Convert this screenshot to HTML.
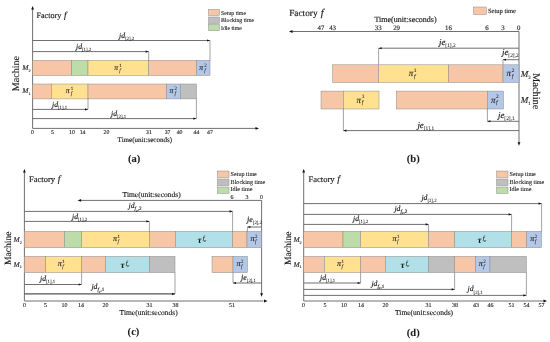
<!DOCTYPE html>
<html><head><meta charset="utf-8"><title>Figure</title>
<style>
html,body{margin:0;padding:0;background:#fff;}
svg{display:block;}
svg text{text-rendering:geometricPrecision;font-family:"Liberation Serif","DejaVu Serif",serif;fill:#1a1a1a;stroke:#1a1a1a;stroke-width:0.2px;}
</style></head>
<body>
<svg width="550" height="342" viewBox="0 0 550 342">
<rect width="550" height="342" fill="#ffffff"/>
<line x1="32.60" y1="128.40" x2="32.60" y2="8.00" stroke="#686868" stroke-width="0.95"/>
<polygon points="32.60,6.00 31.20,9.50 34.00,9.50" fill="#111"/>
<line x1="32.60" y1="128.40" x2="256.00" y2="128.40" stroke="#686868" stroke-width="0.95"/>
<polygon points="259.00,128.40 255.50,127.00 255.50,129.80" fill="#111"/>
<text x="36.50" y="17.50" text-anchor="start" style="font-size:8.1px;stroke-width:0.162px;" >Factory <tspan dx="0.65" style="font-style:italic;font-size:9.07px">f</tspan></text>
<text x="0" y="0" text-anchor="middle" transform="translate(18.60,73.60) rotate(-90)" style="font-size:10.1px;stroke-width:0.12px">Machine</text>
<text x="22.30" y="70.20" style="font-size:7.4px;font-style:italic;stroke-width:0.1px">M<tspan dy="1.85" style="font-size:4.2px;font-style:normal">2</tspan></text>
<text x="22.30" y="93.40" style="font-size:7.4px;font-style:italic;stroke-width:0.1px">M<tspan dy="1.85" style="font-size:4.2px;font-style:normal">1</tspan></text>
<rect x="208.60" y="9.40" width="10.80" height="6.00" fill="#F7C6A7" stroke="#8a8a8a" stroke-width="0.5"/>
<text x="221.00" y="14.60" text-anchor="start" style="font-size:5.8px;stroke-width:0.116px;" >Setup time</text>
<rect x="208.60" y="17.00" width="10.80" height="6.40" fill="#BFBFBF" stroke="#8a8a8a" stroke-width="0.5"/>
<text x="221.00" y="22.20" text-anchor="start" style="font-size:5.8px;stroke-width:0.116px;" >Blocking time</text>
<rect x="208.60" y="24.60" width="10.80" height="6.00" fill="#BCDDAA" stroke="#8a8a8a" stroke-width="0.5"/>
<text x="221.00" y="29.60" text-anchor="start" style="font-size:5.8px;stroke-width:0.116px;" >Idle time</text>
<rect x="32.60" y="60.40" width="39.00" height="15.10" fill="#F7C6A7" stroke="#8a8a8a" stroke-width="0.5"/>
<rect x="71.60" y="60.40" width="16.40" height="15.10" fill="#BCDDAA" stroke="#8a8a8a" stroke-width="0.5"/>
<rect x="88.00" y="60.40" width="60.60" height="15.10" fill="#FFE18F" stroke="#8a8a8a" stroke-width="0.5"/>
<rect x="148.60" y="60.40" width="47.90" height="15.10" fill="#F7C6A7" stroke="#8a8a8a" stroke-width="0.5"/>
<rect x="196.50" y="60.40" width="13.50" height="15.10" fill="#B4C7E7" stroke="#8a8a8a" stroke-width="0.5"/>
<rect x="32.60" y="84.00" width="18.80" height="14.90" fill="#F7C6A7" stroke="#8a8a8a" stroke-width="0.5"/>
<rect x="51.40" y="84.00" width="36.60" height="14.90" fill="#FFE18F" stroke="#8a8a8a" stroke-width="0.5"/>
<rect x="88.00" y="84.00" width="78.40" height="14.90" fill="#F7C6A7" stroke="#8a8a8a" stroke-width="0.5"/>
<rect x="166.40" y="84.00" width="14.00" height="14.90" fill="#B4C7E7" stroke="#8a8a8a" stroke-width="0.5"/>
<rect x="180.40" y="84.00" width="16.00" height="14.90" fill="#BFBFBF" stroke="#8a8a8a" stroke-width="0.5"/>
<text x="114.18" y="70.32" style="font-size:7.8px;font-style:italic;stroke-width:0.1px">π</text>
<text x="119.33" y="67.35" style="font-size:5.0px;stroke-width:0.04px">1</text>
<text x="119.33" y="72.42" style="font-size:5.25px;font-style:italic;stroke-width:0.04px">f</text>
<text x="199.18" y="70.32" style="font-size:7.8px;font-style:italic;stroke-width:0.1px">π</text>
<text x="204.33" y="67.35" style="font-size:5.0px;stroke-width:0.04px">2</text>
<text x="204.33" y="72.42" style="font-size:5.25px;font-style:italic;stroke-width:0.04px">f</text>
<text x="65.68" y="93.32" style="font-size:7.8px;font-style:italic;stroke-width:0.1px">π</text>
<text x="70.83" y="90.35" style="font-size:5.0px;stroke-width:0.04px">1</text>
<text x="70.83" y="95.42" style="font-size:5.25px;font-style:italic;stroke-width:0.04px">f</text>
<text x="169.38" y="92.92" style="font-size:7.8px;font-style:italic;stroke-width:0.1px">π</text>
<text x="174.53" y="89.95" style="font-size:5.0px;stroke-width:0.04px">2</text>
<text x="174.53" y="95.02" style="font-size:5.25px;font-style:italic;stroke-width:0.04px">f</text>
<line x1="32.60" y1="40.50" x2="210.00" y2="40.50" stroke="#686868" stroke-width="0.95"/>
<polygon points="210.00,40.50 207.00,39.45 207.00,41.55" fill="#111"/>
<line x1="210.00" y1="40.50" x2="210.00" y2="60.60" stroke="#7c7c7c" stroke-width="0.7"/>
<text x="119.00" y="38.30" text-anchor="start" style="font-size:7.7px;stroke-width:0.154px;" ><tspan style="font-style:italic">jd</tspan><tspan dy="2.16" style="font-size:4.8px;stroke-width:0.05px;">[2],2</tspan></text>
<line x1="32.60" y1="51.60" x2="148.70" y2="51.60" stroke="#686868" stroke-width="0.95"/>
<polygon points="148.70,51.60 145.70,50.55 145.70,52.65" fill="#111"/>
<line x1="148.70" y1="51.60" x2="148.70" y2="60.60" stroke="#7c7c7c" stroke-width="0.7"/>
<text x="76.00" y="49.30" text-anchor="start" style="font-size:7.7px;stroke-width:0.154px;" ><tspan style="font-style:italic">jd</tspan><tspan dy="2.16" style="font-size:4.8px;stroke-width:0.05px;">[1],2</tspan></text>
<line x1="32.60" y1="109.40" x2="88.00" y2="109.40" stroke="#686868" stroke-width="0.95"/>
<polygon points="88.00,109.40 85.00,108.35 85.00,110.45" fill="#111"/>
<line x1="88.00" y1="98.40" x2="88.00" y2="109.40" stroke="#7c7c7c" stroke-width="0.7"/>
<text x="52.00" y="106.60" text-anchor="start" style="font-size:7.7px;stroke-width:0.154px;" ><tspan style="font-style:italic">jd</tspan><tspan dy="2.16" style="font-size:4.8px;stroke-width:0.05px;">[1],1</tspan></text>
<line x1="32.60" y1="118.60" x2="196.40" y2="118.60" stroke="#686868" stroke-width="0.95"/>
<polygon points="196.40,118.60 193.40,117.55 193.40,119.65" fill="#111"/>
<line x1="196.40" y1="98.40" x2="196.40" y2="118.60" stroke="#7c7c7c" stroke-width="0.7"/>
<text x="111.00" y="116.20" text-anchor="start" style="font-size:7.7px;stroke-width:0.154px;" ><tspan style="font-style:italic">jd</tspan><tspan dy="2.16" style="font-size:4.8px;stroke-width:0.05px;">[2],1</tspan></text>
<text x="32.40" y="134.20" text-anchor="middle" style="font-size:5.8px;stroke-width:0.116px;" >0</text>
<text x="52.40" y="134.20" text-anchor="middle" style="font-size:5.8px;stroke-width:0.116px;" >5</text>
<text x="72.00" y="134.20" text-anchor="middle" style="font-size:5.8px;stroke-width:0.116px;" >10</text>
<text x="82.60" y="134.20" text-anchor="middle" style="font-size:5.8px;stroke-width:0.116px;" >14</text>
<text x="106.40" y="134.20" text-anchor="middle" style="font-size:5.8px;stroke-width:0.116px;" >20</text>
<text x="149.00" y="134.20" text-anchor="middle" style="font-size:5.8px;stroke-width:0.116px;" >31</text>
<text x="167.60" y="134.20" text-anchor="middle" style="font-size:5.8px;stroke-width:0.116px;" >37</text>
<text x="179.60" y="134.20" text-anchor="middle" style="font-size:5.8px;stroke-width:0.116px;" >40</text>
<text x="196.40" y="134.20" text-anchor="middle" style="font-size:5.8px;stroke-width:0.116px;" >44</text>
<text x="210.00" y="134.20" text-anchor="middle" style="font-size:5.8px;stroke-width:0.116px;" >47</text>
<text x="117.60" y="142.00" text-anchor="start" style="font-size:7.05px;stroke-width:0.141px;" >Time(unit:seconds)</text>
<text x="134.20" y="162.40" text-anchor="middle" style="font-size:10.6px;font-weight:bold;stroke-width:0.05px">(a)</text>
<line x1="519.00" y1="31.50" x2="292.00" y2="31.50" stroke="#686868" stroke-width="0.95"/>
<polygon points="289.00,31.50 292.50,30.10 292.50,32.90" fill="#111"/>
<line x1="519.00" y1="31.50" x2="519.00" y2="143.00" stroke="#686868" stroke-width="0.95"/>
<polygon points="519.00,145.80 517.60,142.30 520.40,142.30" fill="#111"/>
<text x="289.20" y="15.90" text-anchor="start" style="font-size:9.3px;stroke-width:0.186px;" >Factory <tspan dx="0.74" style="font-style:italic;font-size:10.42px">f</tspan></text>
<text x="374.40" y="21.60" text-anchor="start" style="font-size:8.05px;stroke-width:0.161px;" >Time(unit:seconds)</text>
<rect x="473.50" y="7.00" width="12.80" height="7.40" fill="#F7C6A7" stroke="#8a8a8a" stroke-width="0.5"/>
<text x="488.00" y="12.80" text-anchor="start" style="font-size:6.5px;stroke-width:0.130px;" >Setup time</text>
<text x="321.00" y="29.70" text-anchor="middle" style="font-size:6.8px;stroke-width:0.136px;" >47</text>
<text x="332.60" y="29.70" text-anchor="middle" style="font-size:6.8px;stroke-width:0.136px;" >43</text>
<text x="378.20" y="29.70" text-anchor="middle" style="font-size:6.8px;stroke-width:0.136px;" >33</text>
<text x="396.60" y="29.70" text-anchor="middle" style="font-size:6.8px;stroke-width:0.136px;" >29</text>
<text x="448.50" y="29.70" text-anchor="middle" style="font-size:6.8px;stroke-width:0.136px;" >16</text>
<text x="487.00" y="29.70" text-anchor="middle" style="font-size:6.8px;stroke-width:0.136px;" >6</text>
<text x="503.00" y="29.70" text-anchor="middle" style="font-size:6.8px;stroke-width:0.136px;" >3</text>
<text x="518.60" y="29.70" text-anchor="middle" style="font-size:6.8px;stroke-width:0.136px;" >0</text>
<rect x="332.60" y="64.80" width="46.00" height="17.70" fill="#F7C6A7" stroke="#8a8a8a" stroke-width="0.5"/>
<rect x="378.60" y="64.80" width="70.00" height="17.70" fill="#FFE18F" stroke="#8a8a8a" stroke-width="0.5"/>
<rect x="448.60" y="64.80" width="54.40" height="17.70" fill="#F7C6A7" stroke="#8a8a8a" stroke-width="0.5"/>
<rect x="503.00" y="64.80" width="16.00" height="17.70" fill="#B4C7E7" stroke="#8a8a8a" stroke-width="0.5"/>
<rect x="321.00" y="91.10" width="22.40" height="17.90" fill="#F7C6A7" stroke="#8a8a8a" stroke-width="0.5"/>
<rect x="343.40" y="91.10" width="35.60" height="17.90" fill="#FFE18F" stroke="#8a8a8a" stroke-width="0.5"/>
<rect x="396.40" y="91.10" width="91.00" height="17.90" fill="#F7C6A7" stroke="#8a8a8a" stroke-width="0.5"/>
<rect x="487.40" y="91.10" width="16.00" height="17.90" fill="#B4C7E7" stroke="#8a8a8a" stroke-width="0.5"/>
<text x="408.79" y="76.39" style="font-size:9.0px;font-style:italic;stroke-width:0.1px">π</text>
<text x="413.83" y="71.71" style="font-size:5.4px;stroke-width:0.04px">1</text>
<text x="414.01" y="77.65" style="font-size:5.67px;font-style:italic;stroke-width:0.04px">f</text>
<text x="506.59" y="76.39" style="font-size:9.0px;font-style:italic;stroke-width:0.1px">π</text>
<text x="511.63" y="71.71" style="font-size:5.4px;stroke-width:0.04px">2</text>
<text x="511.81" y="77.65" style="font-size:5.67px;font-style:italic;stroke-width:0.04px">f</text>
<text x="356.59" y="102.79" style="font-size:9.0px;font-style:italic;stroke-width:0.1px">π</text>
<text x="361.63" y="98.11" style="font-size:5.4px;stroke-width:0.04px">1</text>
<text x="361.81" y="104.05" style="font-size:5.67px;font-style:italic;stroke-width:0.04px">f</text>
<text x="490.89" y="102.79" style="font-size:9.0px;font-style:italic;stroke-width:0.1px">π</text>
<text x="495.93" y="98.11" style="font-size:5.4px;stroke-width:0.04px">2</text>
<text x="496.11" y="104.05" style="font-size:5.67px;font-style:italic;stroke-width:0.04px">f</text>
<text x="520.80" y="76.80" style="font-size:9.0px;font-style:italic;stroke-width:0.1px">M<tspan dy="2.25" style="font-size:4.8px;font-style:normal">2</tspan></text>
<text x="520.80" y="102.80" style="font-size:9.0px;font-style:italic;stroke-width:0.1px">M<tspan dy="2.25" style="font-size:4.8px;font-style:normal">1</tspan></text>
<text x="0" y="0" text-anchor="middle" transform="translate(532.50,91.20) rotate(90)" style="font-size:10.4px;stroke-width:0.12px">Machine</text>
<line x1="519.00" y1="48.20" x2="378.60" y2="48.20" stroke="#686868" stroke-width="0.95"/>
<polygon points="378.60,48.20 381.60,47.15 381.60,49.25" fill="#111"/>
<line x1="378.60" y1="48.20" x2="378.60" y2="64.40" stroke="#7c7c7c" stroke-width="0.7"/>
<text x="439.00" y="44.60" text-anchor="start" style="font-size:8.8px;stroke-width:0.176px;" ><tspan style="font-style:italic">je</tspan><tspan dy="2.46" style="font-size:5.4px;stroke-width:0.05px;">[1],2</tspan></text>
<line x1="519.00" y1="59.70" x2="503.00" y2="59.70" stroke="#686868" stroke-width="0.95"/>
<polygon points="503.00,59.70 506.00,58.65 506.00,60.75" fill="#111"/>
<line x1="503.00" y1="59.70" x2="503.00" y2="64.40" stroke="#7c7c7c" stroke-width="0.7"/>
<text x="502.00" y="55.00" text-anchor="start" style="font-size:8.8px;stroke-width:0.176px;" ><tspan style="font-style:italic">je</tspan><tspan dy="2.46" style="font-size:5.4px;stroke-width:0.05px;">[2],2</tspan></text>
<line x1="519.00" y1="121.30" x2="487.40" y2="121.30" stroke="#686868" stroke-width="0.95"/>
<polygon points="487.40,121.30 490.40,120.25 490.40,122.35" fill="#111"/>
<line x1="487.40" y1="108.60" x2="487.40" y2="121.30" stroke="#7c7c7c" stroke-width="0.7"/>
<text x="498.00" y="118.00" text-anchor="start" style="font-size:8.8px;stroke-width:0.176px;" ><tspan style="font-style:italic">je</tspan><tspan dy="2.46" style="font-size:5.4px;stroke-width:0.05px;">[2],1</tspan></text>
<line x1="519.00" y1="130.60" x2="343.40" y2="130.60" stroke="#686868" stroke-width="0.95"/>
<polygon points="343.40,130.60 346.40,129.55 346.40,131.65" fill="#111"/>
<line x1="343.40" y1="108.60" x2="343.40" y2="130.60" stroke="#7c7c7c" stroke-width="0.7"/>
<text x="417.40" y="127.60" text-anchor="start" style="font-size:8.8px;stroke-width:0.176px;" ><tspan style="font-style:italic">je</tspan><tspan dy="2.46" style="font-size:5.4px;stroke-width:0.05px;">[1],1</tspan></text>
<text x="413.30" y="162.20" text-anchor="middle" style="font-size:10.6px;font-weight:bold;stroke-width:0.05px">(b)</text>
<line x1="24.40" y1="301.00" x2="24.40" y2="171.00" stroke="#686868" stroke-width="0.95"/>
<polygon points="24.40,169.00 23.00,172.50 25.80,172.50" fill="#111"/>
<line x1="24.40" y1="301.00" x2="263.50" y2="301.00" stroke="#686868" stroke-width="0.95"/>
<polygon points="267.50,301.00 264.00,299.60 264.00,302.40" fill="#111"/>
<text x="29.00" y="181.80" text-anchor="start" style="font-size:8.5px;stroke-width:0.170px;" >Factory <tspan dx="0.68" style="font-style:italic;font-size:9.52px">f</tspan></text>
<text x="0" y="0" text-anchor="middle" transform="translate(11.20,248.20) rotate(-90)" style="font-size:9.6px;stroke-width:0.12px">Machine</text>
<text x="13.60" y="241.80" style="font-size:7.4px;font-style:italic;stroke-width:0.1px">M<tspan dy="1.85" style="font-size:4.2px;font-style:normal">2</tspan></text>
<text x="13.60" y="266.60" style="font-size:7.4px;font-style:italic;stroke-width:0.1px">M<tspan dy="1.85" style="font-size:4.2px;font-style:normal">1</tspan></text>
<rect x="217.40" y="171.00" width="11.60" height="6.40" fill="#F7C6A7" stroke="#8a8a8a" stroke-width="0.5"/>
<text x="230.60" y="176.40" text-anchor="start" style="font-size:6.1px;stroke-width:0.122px;" >Setup time</text>
<rect x="217.40" y="179.00" width="11.60" height="6.60" fill="#BFBFBF" stroke="#8a8a8a" stroke-width="0.5"/>
<text x="230.60" y="184.00" text-anchor="start" style="font-size:6.1px;stroke-width:0.122px;" >Blocking time</text>
<rect x="217.40" y="187.00" width="11.60" height="6.40" fill="#BCDDAA" stroke="#8a8a8a" stroke-width="0.5"/>
<text x="230.60" y="191.20" text-anchor="start" style="font-size:6.1px;stroke-width:0.122px;" >Idle time</text>
<text x="122.60" y="196.50" text-anchor="start" style="font-size:7.5px;stroke-width:0.150px;" >Time(unit:seconds)</text>
<line x1="261.60" y1="200.40" x2="80.50" y2="200.40" stroke="#686868" stroke-width="0.95"/>
<polygon points="77.60,200.40 81.10,199.00 81.10,201.80" fill="#111"/>
<line x1="261.60" y1="200.40" x2="261.60" y2="294.00" stroke="#686868" stroke-width="0.95"/>
<polygon points="261.60,296.80 260.20,293.30 263.00,293.30" fill="#111"/>
<text x="232.00" y="199.00" text-anchor="middle" style="font-size:6px;stroke-width:0.120px;" >6</text>
<text x="247.00" y="199.00" text-anchor="middle" style="font-size:6px;stroke-width:0.120px;" >3</text>
<text x="261.40" y="199.00" text-anchor="middle" style="font-size:6px;stroke-width:0.120px;" >0</text>
<rect x="24.40" y="231.40" width="40.00" height="16.30" fill="#F7C6A7" stroke="#8a8a8a" stroke-width="0.5"/>
<rect x="64.40" y="231.40" width="17.20" height="16.30" fill="#BCDDAA" stroke="#8a8a8a" stroke-width="0.5"/>
<rect x="81.60" y="231.40" width="67.80" height="16.30" fill="#FFE18F" stroke="#8a8a8a" stroke-width="0.5"/>
<rect x="149.40" y="231.40" width="26.00" height="16.30" fill="#F7C6A7" stroke="#8a8a8a" stroke-width="0.5"/>
<rect x="175.40" y="231.40" width="57.20" height="16.30" fill="#B2E0E8" stroke="#8a8a8a" stroke-width="0.5"/>
<rect x="232.60" y="231.40" width="14.40" height="16.30" fill="#F7C6A7" stroke="#8a8a8a" stroke-width="0.5"/>
<rect x="247.00" y="231.40" width="14.60" height="16.30" fill="#B4C7E7" stroke="#8a8a8a" stroke-width="0.5"/>
<rect x="24.40" y="256.40" width="21.20" height="16.20" fill="#F7C6A7" stroke="#8a8a8a" stroke-width="0.5"/>
<rect x="45.60" y="256.40" width="36.00" height="16.20" fill="#FFE18F" stroke="#8a8a8a" stroke-width="0.5"/>
<rect x="81.60" y="256.40" width="23.90" height="16.20" fill="#F7C6A7" stroke="#8a8a8a" stroke-width="0.5"/>
<rect x="105.50" y="256.40" width="43.90" height="16.20" fill="#B2E0E8" stroke="#8a8a8a" stroke-width="0.5"/>
<rect x="149.40" y="256.40" width="25.60" height="16.20" fill="#BFBFBF" stroke="#8a8a8a" stroke-width="0.5"/>
<rect x="212.00" y="256.40" width="21.00" height="16.20" fill="#F7C6A7" stroke="#8a8a8a" stroke-width="0.5"/>
<rect x="233.00" y="256.40" width="14.40" height="16.20" fill="#B4C7E7" stroke="#8a8a8a" stroke-width="0.5"/>
<text x="112.98" y="241.14" style="font-size:8.2px;font-style:italic;stroke-width:0.1px">π</text>
<text x="117.49" y="237.86" style="font-size:5.0px;stroke-width:0.04px">1</text>
<text x="117.49" y="243.36" style="font-size:5.25px;font-style:italic;stroke-width:0.04px">f</text>
<text x="197.48" y="243.42" style="font-size:9.2px;font-style:italic;font-weight:bold;stroke-width:0.05px">τ</text>
<text x="202.63" y="240.29" style="font-size:6.2px;font-style:italic;stroke-width:0.08px">f<tspan dy="1.36" style="font-size:4.34px">c</tspan></text>
<text x="250.38" y="241.14" style="font-size:8.2px;font-style:italic;stroke-width:0.1px">π</text>
<text x="254.89" y="237.86" style="font-size:5.0px;stroke-width:0.04px">2</text>
<text x="254.89" y="243.36" style="font-size:5.25px;font-style:italic;stroke-width:0.04px">f</text>
<text x="57.78" y="266.04" style="font-size:8.2px;font-style:italic;stroke-width:0.1px">π</text>
<text x="62.29" y="262.76" style="font-size:5.0px;stroke-width:0.04px">1</text>
<text x="62.29" y="268.26" style="font-size:5.25px;font-style:italic;stroke-width:0.04px">f</text>
<text x="120.48" y="268.32" style="font-size:9.2px;font-style:italic;font-weight:bold;stroke-width:0.05px">τ</text>
<text x="125.63" y="265.19" style="font-size:6.2px;font-style:italic;stroke-width:0.08px">f<tspan dy="1.36" style="font-size:4.34px">c</tspan></text>
<text x="236.38" y="266.04" style="font-size:8.2px;font-style:italic;stroke-width:0.1px">π</text>
<text x="240.89" y="262.76" style="font-size:5.0px;stroke-width:0.04px">2</text>
<text x="240.89" y="268.26" style="font-size:5.25px;font-style:italic;stroke-width:0.04px">f</text>
<line x1="24.40" y1="211.40" x2="232.60" y2="211.40" stroke="#686868" stroke-width="0.95"/>
<polygon points="232.60,211.40 229.60,210.35 229.60,212.45" fill="#111"/>
<line x1="232.60" y1="211.40" x2="232.60" y2="231.60" stroke="#7c7c7c" stroke-width="0.7"/>
<text x="128.60" y="208.20" text-anchor="start" style="font-size:7.7px;stroke-width:0.154px;" ><tspan style="font-style:italic">jd</tspan><tspan dy="2.16" style="font-size:5.04px;font-style:italic">f</tspan><tspan dy="1.26" style="font-size:3.78px;font-style:italic">c</tspan><tspan dy="-1.26" style="font-size:5.04px;">,2</tspan></text>
<line x1="24.40" y1="221.40" x2="149.40" y2="221.40" stroke="#686868" stroke-width="0.95"/>
<polygon points="149.40,221.40 146.40,220.35 146.40,222.45" fill="#111"/>
<line x1="149.40" y1="221.40" x2="149.40" y2="231.60" stroke="#7c7c7c" stroke-width="0.7"/>
<text x="72.00" y="218.60" text-anchor="start" style="font-size:7.7px;stroke-width:0.154px;" ><tspan style="font-style:italic">jd</tspan><tspan dy="2.16" style="font-size:4.8px;stroke-width:0.05px;">[1],2</tspan></text>
<line x1="261.60" y1="227.00" x2="247.40" y2="227.00" stroke="#686868" stroke-width="0.95"/>
<polygon points="247.40,227.00 250.40,225.95 250.40,228.05" fill="#111"/>
<line x1="247.40" y1="227.00" x2="247.40" y2="231.60" stroke="#7c7c7c" stroke-width="0.7"/>
<text x="247.00" y="222.20" text-anchor="start" style="font-size:8px;stroke-width:0.160px;" ><tspan style="font-style:italic">je</tspan><tspan dy="2.24" style="font-size:4.8px;stroke-width:0.05px;">[2],2</tspan></text>
<line x1="24.40" y1="284.50" x2="81.60" y2="284.50" stroke="#686868" stroke-width="0.95"/>
<polygon points="81.60,284.50 78.60,283.45 78.60,285.55" fill="#111"/>
<line x1="81.60" y1="272.40" x2="81.60" y2="284.50" stroke="#7c7c7c" stroke-width="0.7"/>
<text x="40.00" y="281.20" text-anchor="start" style="font-size:7.7px;stroke-width:0.154px;" ><tspan style="font-style:italic">jd</tspan><tspan dy="2.16" style="font-size:4.8px;stroke-width:0.05px;">[1],1</tspan></text>
<line x1="24.40" y1="293.90" x2="175.00" y2="293.90" stroke="#555" stroke-width="1.1"/>
<polygon points="175.00,293.90 172.00,292.85 172.00,294.95" fill="#111"/>
<line x1="175.00" y1="272.40" x2="175.00" y2="293.90" stroke="#7c7c7c" stroke-width="0.7"/>
<text x="91.40" y="289.20" text-anchor="start" style="font-size:7.7px;stroke-width:0.154px;" ><tspan style="font-style:italic">jd</tspan><tspan dy="2.16" style="font-size:5.04px;font-style:italic">f</tspan><tspan dy="1.26" style="font-size:3.78px;font-style:italic">c</tspan><tspan dy="-1.26" style="font-size:5.04px;">,1</tspan></text>
<line x1="261.60" y1="283.00" x2="233.00" y2="283.00" stroke="#686868" stroke-width="0.95"/>
<polygon points="233.00,283.00 236.00,281.95 236.00,284.05" fill="#111"/>
<line x1="233.00" y1="272.40" x2="233.00" y2="283.00" stroke="#7c7c7c" stroke-width="0.7"/>
<text x="241.00" y="279.60" text-anchor="start" style="font-size:8px;stroke-width:0.160px;" ><tspan style="font-style:italic">je</tspan><tspan dy="2.24" style="font-size:4.8px;stroke-width:0.05px;">[2],1</tspan></text>
<text x="24.40" y="307.00" text-anchor="middle" style="font-size:6px;stroke-width:0.120px;" >0</text>
<text x="45.60" y="307.00" text-anchor="middle" style="font-size:6px;stroke-width:0.120px;" >5</text>
<text x="64.40" y="307.00" text-anchor="middle" style="font-size:6px;stroke-width:0.120px;" >10</text>
<text x="81.00" y="307.00" text-anchor="middle" style="font-size:6px;stroke-width:0.120px;" >14</text>
<text x="105.60" y="307.00" text-anchor="middle" style="font-size:6px;stroke-width:0.120px;" >20</text>
<text x="149.40" y="307.00" text-anchor="middle" style="font-size:6px;stroke-width:0.120px;" >31</text>
<text x="175.40" y="307.00" text-anchor="middle" style="font-size:6px;stroke-width:0.120px;" >38</text>
<text x="232.00" y="307.00" text-anchor="middle" style="font-size:6px;stroke-width:0.120px;" >51</text>
<text x="119.60" y="315.40" text-anchor="start" style="font-size:7.5px;stroke-width:0.150px;" >Time(unit:seconds)</text>
<text x="133.50" y="335.00" text-anchor="middle" style="font-size:10.6px;font-weight:bold;stroke-width:0.05px">(c)</text>
<line x1="303.70" y1="301.00" x2="303.70" y2="171.00" stroke="#686868" stroke-width="0.95"/>
<polygon points="303.70,169.00 302.30,172.50 305.10,172.50" fill="#111"/>
<line x1="303.70" y1="301.00" x2="544.00" y2="301.00" stroke="#686868" stroke-width="0.95"/>
<polygon points="547.00,301.00 543.50,299.60 543.50,302.40" fill="#111"/>
<text x="308.60" y="181.80" text-anchor="start" style="font-size:8.5px;stroke-width:0.170px;" >Factory <tspan dx="0.68" style="font-style:italic;font-size:9.52px">f</tspan></text>
<text x="0" y="0" text-anchor="middle" transform="translate(290.80,248.20) rotate(-90)" style="font-size:9.6px;stroke-width:0.12px">Machine</text>
<text x="293.40" y="241.80" style="font-size:7.4px;font-style:italic;stroke-width:0.1px">M<tspan dy="1.85" style="font-size:4.2px;font-style:normal">2</tspan></text>
<text x="293.40" y="266.60" style="font-size:7.4px;font-style:italic;stroke-width:0.1px">M<tspan dy="1.85" style="font-size:4.2px;font-style:normal">1</tspan></text>
<rect x="496.60" y="171.00" width="11.40" height="6.40" fill="#F7C6A7" stroke="#8a8a8a" stroke-width="0.5"/>
<text x="509.60" y="176.40" text-anchor="start" style="font-size:6.1px;stroke-width:0.122px;" >Setup time</text>
<rect x="496.60" y="179.00" width="11.40" height="6.60" fill="#BFBFBF" stroke="#8a8a8a" stroke-width="0.5"/>
<text x="509.60" y="184.00" text-anchor="start" style="font-size:6.1px;stroke-width:0.122px;" >Blocking time</text>
<rect x="496.60" y="187.00" width="11.40" height="6.40" fill="#BCDDAA" stroke="#8a8a8a" stroke-width="0.5"/>
<text x="509.60" y="191.20" text-anchor="start" style="font-size:6.1px;stroke-width:0.122px;" >Idle time</text>
<rect x="303.70" y="231.40" width="39.30" height="16.30" fill="#F7C6A7" stroke="#8a8a8a" stroke-width="0.5"/>
<rect x="343.00" y="231.40" width="17.60" height="16.30" fill="#BCDDAA" stroke="#8a8a8a" stroke-width="0.5"/>
<rect x="360.60" y="231.40" width="68.00" height="16.30" fill="#FFE18F" stroke="#8a8a8a" stroke-width="0.5"/>
<rect x="428.60" y="231.40" width="26.00" height="16.30" fill="#F7C6A7" stroke="#8a8a8a" stroke-width="0.5"/>
<rect x="454.60" y="231.40" width="57.00" height="16.30" fill="#B2E0E8" stroke="#8a8a8a" stroke-width="0.5"/>
<rect x="511.60" y="231.40" width="15.00" height="16.30" fill="#F7C6A7" stroke="#8a8a8a" stroke-width="0.5"/>
<rect x="526.60" y="231.40" width="14.90" height="16.30" fill="#B4C7E7" stroke="#8a8a8a" stroke-width="0.5"/>
<rect x="303.70" y="256.40" width="20.70" height="16.20" fill="#F7C6A7" stroke="#8a8a8a" stroke-width="0.5"/>
<rect x="324.40" y="256.40" width="36.20" height="16.20" fill="#FFE18F" stroke="#8a8a8a" stroke-width="0.5"/>
<rect x="360.60" y="256.40" width="24.80" height="16.20" fill="#F7C6A7" stroke="#8a8a8a" stroke-width="0.5"/>
<rect x="385.40" y="256.40" width="43.20" height="16.20" fill="#B2E0E8" stroke="#8a8a8a" stroke-width="0.5"/>
<rect x="428.60" y="256.40" width="26.00" height="16.20" fill="#BFBFBF" stroke="#8a8a8a" stroke-width="0.5"/>
<rect x="454.60" y="256.40" width="20.80" height="16.20" fill="#F7C6A7" stroke="#8a8a8a" stroke-width="0.5"/>
<rect x="475.40" y="256.40" width="14.60" height="16.20" fill="#B4C7E7" stroke="#8a8a8a" stroke-width="0.5"/>
<rect x="490.00" y="256.40" width="36.40" height="16.20" fill="#BFBFBF" stroke="#8a8a8a" stroke-width="0.5"/>
<text x="392.48" y="241.14" style="font-size:8.2px;font-style:italic;stroke-width:0.1px">π</text>
<text x="396.99" y="237.86" style="font-size:5.0px;stroke-width:0.04px">1</text>
<text x="396.99" y="243.36" style="font-size:5.25px;font-style:italic;stroke-width:0.04px">f</text>
<text x="477.48" y="243.42" style="font-size:9.2px;font-style:italic;font-weight:bold;stroke-width:0.05px">τ</text>
<text x="482.63" y="240.29" style="font-size:6.2px;font-style:italic;stroke-width:0.08px">f<tspan dy="1.36" style="font-size:4.34px">c</tspan></text>
<text x="530.28" y="241.14" style="font-size:8.2px;font-style:italic;stroke-width:0.1px">π</text>
<text x="534.79" y="237.86" style="font-size:5.0px;stroke-width:0.04px">2</text>
<text x="534.79" y="243.36" style="font-size:5.25px;font-style:italic;stroke-width:0.04px">f</text>
<text x="336.98" y="266.04" style="font-size:8.2px;font-style:italic;stroke-width:0.1px">π</text>
<text x="341.49" y="262.76" style="font-size:5.0px;stroke-width:0.04px">1</text>
<text x="341.49" y="268.26" style="font-size:5.25px;font-style:italic;stroke-width:0.04px">f</text>
<text x="400.48" y="268.32" style="font-size:9.2px;font-style:italic;font-weight:bold;stroke-width:0.05px">τ</text>
<text x="405.63" y="265.19" style="font-size:6.2px;font-style:italic;stroke-width:0.08px">f<tspan dy="1.36" style="font-size:4.34px">c</tspan></text>
<text x="478.68" y="266.04" style="font-size:8.2px;font-style:italic;stroke-width:0.1px">π</text>
<text x="483.19" y="262.76" style="font-size:5.0px;stroke-width:0.04px">2</text>
<text x="483.19" y="268.26" style="font-size:5.25px;font-style:italic;stroke-width:0.04px">f</text>
<line x1="303.70" y1="203.60" x2="541.60" y2="203.60" stroke="#686868" stroke-width="0.95"/>
<polygon points="541.60,203.60 538.60,202.55 538.60,204.65" fill="#111"/>
<line x1="541.60" y1="203.60" x2="541.60" y2="231.60" stroke="#7c7c7c" stroke-width="0.7"/>
<text x="421.40" y="200.20" text-anchor="start" style="font-size:7.7px;stroke-width:0.154px;" ><tspan style="font-style:italic">jd</tspan><tspan dy="2.16" style="font-size:4.8px;stroke-width:0.05px;">[2],2</tspan></text>
<line x1="303.70" y1="214.40" x2="511.60" y2="214.40" stroke="#686868" stroke-width="0.95"/>
<polygon points="511.60,214.40 508.60,213.35 508.60,215.45" fill="#111"/>
<line x1="511.60" y1="214.40" x2="511.60" y2="231.60" stroke="#7c7c7c" stroke-width="0.7"/>
<text x="394.40" y="210.80" text-anchor="start" style="font-size:7.7px;stroke-width:0.154px;" ><tspan style="font-style:italic">jd</tspan><tspan dy="2.16" style="font-size:5.04px;font-style:italic">f</tspan><tspan dy="1.26" style="font-size:3.78px;font-style:italic">c</tspan><tspan dy="-1.26" style="font-size:5.04px;">,2</tspan></text>
<line x1="303.70" y1="224.40" x2="428.60" y2="224.40" stroke="#686868" stroke-width="0.95"/>
<polygon points="428.60,224.40 425.60,223.35 425.60,225.45" fill="#111"/>
<line x1="428.60" y1="224.40" x2="428.60" y2="231.60" stroke="#7c7c7c" stroke-width="0.7"/>
<text x="353.00" y="221.20" text-anchor="start" style="font-size:7.7px;stroke-width:0.154px;" ><tspan style="font-style:italic">jd</tspan><tspan dy="2.16" style="font-size:4.8px;stroke-width:0.05px;">[1],2</tspan></text>
<line x1="303.70" y1="283.00" x2="360.60" y2="283.00" stroke="#686868" stroke-width="0.95"/>
<polygon points="360.60,283.00 357.60,281.95 357.60,284.05" fill="#111"/>
<line x1="360.60" y1="272.40" x2="360.60" y2="283.00" stroke="#7c7c7c" stroke-width="0.7"/>
<text x="320.00" y="279.60" text-anchor="start" style="font-size:7.7px;stroke-width:0.154px;" ><tspan style="font-style:italic">jd</tspan><tspan dy="2.16" style="font-size:4.8px;stroke-width:0.05px;">[1],1</tspan></text>
<line x1="303.70" y1="289.40" x2="454.60" y2="289.40" stroke="#686868" stroke-width="0.95"/>
<polygon points="454.60,289.40 451.60,288.35 451.60,290.45" fill="#111"/>
<line x1="454.60" y1="272.40" x2="454.60" y2="289.40" stroke="#7c7c7c" stroke-width="0.7"/>
<text x="371.40" y="285.80" text-anchor="start" style="font-size:7.7px;stroke-width:0.154px;" ><tspan style="font-style:italic">jd</tspan><tspan dy="2.16" style="font-size:5.04px;font-style:italic">f</tspan><tspan dy="1.26" style="font-size:3.78px;font-style:italic">c</tspan><tspan dy="-1.26" style="font-size:5.04px;">,1</tspan></text>
<line x1="303.70" y1="295.40" x2="526.40" y2="295.40" stroke="#686868" stroke-width="0.95"/>
<polygon points="526.40,295.40 523.40,294.35 523.40,296.45" fill="#111"/>
<line x1="526.40" y1="272.40" x2="526.40" y2="295.40" stroke="#7c7c7c" stroke-width="0.7"/>
<text x="467.60" y="291.40" text-anchor="start" style="font-size:7.7px;stroke-width:0.154px;" ><tspan style="font-style:italic">jd</tspan><tspan dy="2.16" style="font-size:4.8px;stroke-width:0.05px;">[2],1</tspan></text>
<text x="303.60" y="307.00" text-anchor="middle" style="font-size:6px;stroke-width:0.120px;" >0</text>
<text x="325.00" y="307.00" text-anchor="middle" style="font-size:6px;stroke-width:0.120px;" >5</text>
<text x="344.00" y="307.00" text-anchor="middle" style="font-size:6px;stroke-width:0.120px;" >10</text>
<text x="361.00" y="307.00" text-anchor="middle" style="font-size:6px;stroke-width:0.120px;" >14</text>
<text x="385.40" y="307.00" text-anchor="middle" style="font-size:6px;stroke-width:0.120px;" >20</text>
<text x="428.60" y="307.00" text-anchor="middle" style="font-size:6px;stroke-width:0.120px;" >31</text>
<text x="455.00" y="307.00" text-anchor="middle" style="font-size:6px;stroke-width:0.120px;" >38</text>
<text x="476.00" y="307.00" text-anchor="middle" style="font-size:6px;stroke-width:0.120px;" >43</text>
<text x="490.40" y="307.00" text-anchor="middle" style="font-size:6px;stroke-width:0.120px;" >46</text>
<text x="511.40" y="307.00" text-anchor="middle" style="font-size:6px;stroke-width:0.120px;" >51</text>
<text x="526.40" y="307.00" text-anchor="middle" style="font-size:6px;stroke-width:0.120px;" >54</text>
<text x="541.40" y="307.00" text-anchor="middle" style="font-size:6px;stroke-width:0.120px;" >57</text>
<text x="395.00" y="315.40" text-anchor="start" style="font-size:7.5px;stroke-width:0.150px;" >Time(unit:seconds)</text>
<text x="413.30" y="335.60" text-anchor="middle" style="font-size:10.6px;font-weight:bold;stroke-width:0.05px">(d)</text>
</svg>
</body></html>
